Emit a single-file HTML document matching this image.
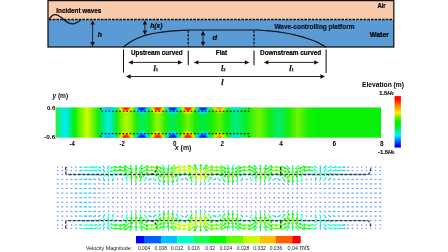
<!DOCTYPE html>
<html lang="en">
<head>
<meta charset="utf-8">
<title>Wave-controlling platform</title>
<style>
html,body{margin:0;padding:0;background:#fff;}
body{width:448px;height:252px;overflow:hidden;font-family:"Liberation Sans",sans-serif;}
svg{display:block;}
text{white-space:pre;}
</style>
</head>
<body>
<svg width="448" height="252" viewBox="0 0 448 252">
<defs>
<linearGradient id="mg" gradientUnits="userSpaceOnUse" x1="55.6" y1="0" x2="381" y2="0"><stop offset="0.0000" stop-color="rgb(50,236,50)"/><stop offset="0.0089" stop-color="rgb(20,238,120)"/><stop offset="0.0197" stop-color="rgb(0,236,212)"/><stop offset="0.0304" stop-color="rgb(0,236,230)"/><stop offset="0.0396" stop-color="rgb(0,236,190)"/><stop offset="0.0489" stop-color="rgb(0,238,90)"/><stop offset="0.0581" stop-color="rgb(0,240,0)"/><stop offset="0.0765" stop-color="rgb(110,246,0)"/><stop offset="0.0965" stop-color="rgb(208,252,0)"/><stop offset="0.1149" stop-color="rgb(110,244,0)"/><stop offset="0.1318" stop-color="rgb(14,236,24)"/><stop offset="0.1457" stop-color="rgb(0,236,130)"/><stop offset="0.1564" stop-color="rgb(0,238,205)"/><stop offset="0.1626" stop-color="rgb(0,238,224)"/><stop offset="0.1687" stop-color="rgb(0,238,205)"/><stop offset="0.1795" stop-color="rgb(0,236,100)"/><stop offset="0.1902" stop-color="rgb(30,238,10)"/><stop offset="0.2041" stop-color="rgb(135,244,0)"/><stop offset="0.2173" stop-color="rgb(180,248,0)"/><stop offset="0.2317" stop-color="rgb(135,244,0)"/><stop offset="0.2471" stop-color="rgb(30,238,10)"/><stop offset="0.2674" stop-color="rgb(0,234,105)"/><stop offset="0.2901" stop-color="rgb(30,238,10)"/><stop offset="0.3024" stop-color="rgb(100,242,0)"/><stop offset="0.3141" stop-color="rgb(150,246,0)"/><stop offset="0.3254" stop-color="rgb(100,242,0)"/><stop offset="0.3377" stop-color="rgb(30,238,10)"/><stop offset="0.3593" stop-color="rgb(0,232,96)"/><stop offset="0.3823" stop-color="rgb(20,238,10)"/><stop offset="0.4069" stop-color="rgb(120,242,0)"/><stop offset="0.4299" stop-color="rgb(20,238,10)"/><stop offset="0.4530" stop-color="rgb(0,234,70)"/><stop offset="0.4776" stop-color="rgb(20,238,10)"/><stop offset="0.5037" stop-color="rgb(90,242,0)"/><stop offset="0.5267" stop-color="rgb(10,238,20)"/><stop offset="0.5544" stop-color="rgb(0,236,140)"/><stop offset="0.5851" stop-color="rgb(10,238,30)"/><stop offset="0.6251" stop-color="rgb(120,244,0)"/><stop offset="0.6558" stop-color="rgb(20,238,10)"/><stop offset="0.6850" stop-color="rgb(0,236,110)"/><stop offset="0.7157" stop-color="rgb(20,238,10)"/><stop offset="0.7449" stop-color="rgb(115,244,0)"/><stop offset="0.7757" stop-color="rgb(20,240,6)"/><stop offset="0.8064" stop-color="rgb(8,240,8)"/><stop offset="1.0000" stop-color="rgb(8,240,8)"/></linearGradient>
<radialGradient id="bR" cx="0.5" cy="0.5" r="0.5"><stop offset="0" stop-color="rgb(255,16,0)" stop-opacity="1"/><stop offset="0.32" stop-color="rgb(255,44,0)" stop-opacity="1"/><stop offset="0.48" stop-color="rgb(255,160,0)" stop-opacity="1"/><stop offset="0.66" stop-color="rgb(235,240,0)" stop-opacity="1"/><stop offset="0.82" stop-color="rgb(150,244,0)" stop-opacity="0.7"/><stop offset="1" stop-color="rgb(60,240,0)" stop-opacity="0"/></radialGradient>
<radialGradient id="bO" cx="0.5" cy="0.5" r="0.5"><stop offset="0" stop-color="rgb(255,120,0)" stop-opacity="1"/><stop offset="0.25" stop-color="rgb(255,150,0)" stop-opacity="1"/><stop offset="0.5" stop-color="rgb(245,225,0)" stop-opacity="1"/><stop offset="0.75" stop-color="rgb(160,244,0)" stop-opacity="0.7"/><stop offset="1" stop-color="rgb(60,240,0)" stop-opacity="0"/></radialGradient>
<radialGradient id="bB" cx="0.5" cy="0.5" r="0.5"><stop offset="0" stop-color="rgb(0,16,255)" stop-opacity="1"/><stop offset="0.34" stop-color="rgb(0,50,255)" stop-opacity="1"/><stop offset="0.48" stop-color="rgb(0,160,255)" stop-opacity="1"/><stop offset="0.66" stop-color="rgb(0,232,236)" stop-opacity="1"/><stop offset="0.82" stop-color="rgb(0,236,150)" stop-opacity="0.7"/><stop offset="1" stop-color="rgb(0,238,60)" stop-opacity="0"/></radialGradient>
<radialGradient id="bC" cx="0.5" cy="0.5" r="0.5"><stop offset="0" stop-color="rgb(40,160,255)" stop-opacity="1"/><stop offset="0.3" stop-color="rgb(30,180,255)" stop-opacity="1"/><stop offset="0.55" stop-color="rgb(0,215,250)" stop-opacity="1"/><stop offset="0.8" stop-color="rgb(0,236,215)" stop-opacity="0.7"/><stop offset="1" stop-color="rgb(0,236,180)" stop-opacity="0"/></radialGradient>
<radialGradient id="bC2" cx="0.5" cy="0.5" r="0.5"><stop offset="0" stop-color="rgb(0,225,240)" stop-opacity="1"/><stop offset="0.4" stop-color="rgb(0,232,215)" stop-opacity="0.9"/><stop offset="1" stop-color="rgb(0,236,150)" stop-opacity="0"/></radialGradient>
<clipPath id="mc"><rect x="55.6" y="107.4" width="325.4" height="30.3"/></clipPath>
<linearGradient id="cb" x1="0" y1="0" x2="0" y2="1"><stop offset="0" stop-color="#f00"/><stop offset="0.07" stop-color="#ff1000"/><stop offset="0.2" stop-color="#ff8c00"/><stop offset="0.33" stop-color="#fff000"/><stop offset="0.42" stop-color="#60f000"/><stop offset="0.5" stop-color="#00ee00"/><stop offset="0.6" stop-color="#00f020"/><stop offset="0.68" stop-color="#00f0a0"/><stop offset="0.76" stop-color="#00f0ff"/><stop offset="0.86" stop-color="#0080ff"/><stop offset="0.96" stop-color="#0000ff"/><stop offset="1" stop-color="#0000f0"/></linearGradient>
</defs>
<rect x="0" y="0" width="448" height="252" fill="#fff"/>
<rect x="48" y="0.6" width="345.8" height="19.4" fill="#F8CBAD"/>
<rect x="48" y="20" width="345.8" height="27" fill="#5B9BD5"/>
<line x1="49" y1="19.4" x2="393.8" y2="19.4" stroke="#111" stroke-width="1.45" stroke-dasharray="2.7 1.0"/>
<path d="M48.8 19.6C51 16 53 14.5 55.1 14.5C58.5 14.5 60.5 17 63.7 19.4C67 22 69 23.9 72.3 23.9C76 23.9 78.5 22 81 19.4" fill="none" stroke="#111" stroke-width="1.25"/>
<path d="M123.3 47.2C124.18 46.53 126.77 44.43 128.6 43.2C130.43 41.97 132.17 40.88 134.3 39.8C136.43 38.72 139.28 37.52 141.4 36.7C143.52 35.88 144.62 35.52 147 34.9C149.38 34.28 151.87 33.62 155.7 33C159.53 32.38 165.78 31.63 170 31.2C174.22 30.77 178 30.6 181 30.4C184 30.2 186.83 30.07 188 30L254 30C255 30.03 257.67 30.07 260 30.2C262.33 30.33 264.28 30.42 268 30.8C271.72 31.18 277.53 31.73 282.3 32.5C287.07 33.27 291.83 34.2 296.6 35.4C301.37 36.6 307.33 38.5 310.9 39.7C314.47 40.9 315.45 41.35 318 42.6C320.55 43.85 324.83 46.43 326.2 47.2" fill="none" stroke="#111" stroke-width="1.2"/>
<line x1="188.25" y1="30.3" x2="188.25" y2="46.6" stroke="#111" stroke-width="1.2" stroke-dasharray="2.6 1.2"/>
<line x1="254" y1="30.3" x2="254" y2="46.6" stroke="#111" stroke-width="1.2" stroke-dasharray="2.6 1.2"/>
<rect x="48" y="0.6" width="345.8" height="46.4" fill="none" stroke="#111" stroke-width="1.25"/>
<line x1="92.6" y1="23.72" x2="92.6" y2="42.88" stroke="#111" stroke-width="0.85"/>
<polygon points="92.6,20.2 94.85,24.6 90.35,24.6" fill="#111"/>
<polygon points="92.6,46.4 90.35,42 94.85,42" fill="#111"/>
<line x1="144.9" y1="23.72" x2="144.9" y2="31.48" stroke="#111" stroke-width="0.85"/>
<polygon points="144.9,20.2 147.15,24.6 142.65,24.6" fill="#111"/>
<polygon points="144.9,35 142.65,30.6 147.15,30.6" fill="#111"/>
<line x1="203" y1="34.32" x2="203" y2="42.68" stroke="#111" stroke-width="0.85"/>
<polygon points="203,30.8 205.25,35.2 200.75,35.2" fill="#111"/>
<polygon points="203,46.2 200.75,41.8 205.25,41.8" fill="#111"/>
<text x="56.3" y="12.8" font-family='"Liberation Sans", sans-serif' font-size="6.9" font-weight="bold" font-style="normal" fill="#000" text-anchor="start" textLength="45.1" lengthAdjust="spacingAndGlyphs" stroke="#000" stroke-width="0.18">Incident waves</text>
<text x="377.4" y="8.3" font-family='"Liberation Sans", sans-serif' font-size="6.3" font-weight="bold" font-style="normal" fill="#000" text-anchor="start" textLength="8.3" lengthAdjust="spacingAndGlyphs" stroke="#000" stroke-width="0.18">Air</text>
<text x="369.8" y="36.5" font-family='"Liberation Sans", sans-serif' font-size="6.4" font-weight="bold" font-style="normal" fill="#000" text-anchor="start" textLength="19.3" lengthAdjust="spacingAndGlyphs" stroke="#000" stroke-width="0.18">Water</text>
<text x="274.5" y="29" font-family='"Liberation Sans", sans-serif' font-size="7" font-weight="bold" font-style="normal" fill="#0a1022" text-anchor="start" textLength="80" lengthAdjust="spacingAndGlyphs" stroke="#0a1022" stroke-width="0.18">Wave-controlling platform</text>
<text x="97.8" y="36.5" font-family='"Liberation Sans", sans-serif' font-size="7.2" font-weight="bold" font-style="italic" fill="#000" text-anchor="start" textLength="4.2" lengthAdjust="spacingAndGlyphs" stroke="#000" stroke-width="0.18">h</text>
<text x="150.2" y="28" font-family='"Liberation Sans", sans-serif' font-size="7.2" font-weight="bold" font-style="italic" fill="#000" text-anchor="start" textLength="12.2" lengthAdjust="spacingAndGlyphs" stroke="#000" stroke-width="0.18">h(x)</text>
<text x="212.6" y="39.8" font-family='"Liberation Sans", sans-serif' font-size="7.2" font-weight="bold" font-style="italic" fill="#000" text-anchor="start" textLength="4.6" lengthAdjust="spacingAndGlyphs" stroke="#000" stroke-width="0.18">d</text>
<line x1="123.5" y1="49.4" x2="123.5" y2="72.6" stroke="#111" stroke-width="1.05"/>
<line x1="188.25" y1="50.4" x2="188.25" y2="65.2" stroke="#111" stroke-width="1.05"/>
<line x1="254" y1="50.4" x2="254" y2="65.2" stroke="#111" stroke-width="1.05"/>
<line x1="326.1" y1="49.4" x2="326.1" y2="73" stroke="#111" stroke-width="1.05"/>
<line x1="131.88" y1="62.4" x2="178.92" y2="62.4" stroke="#111" stroke-width="0.9"/>
<polygon points="128.2,62.4 132.8,60.2 132.8,64.6" fill="#111"/>
<polygon points="182.6,62.4 178,64.6 178,60.2" fill="#111"/>
<line x1="197.48" y1="62.4" x2="245.72" y2="62.4" stroke="#111" stroke-width="0.9"/>
<polygon points="193.8,62.4 198.4,60.2 198.4,64.6" fill="#111"/>
<polygon points="249.4,62.4 244.8,64.6 244.8,60.2" fill="#111"/>
<line x1="267.48" y1="62.4" x2="315.12" y2="62.4" stroke="#111" stroke-width="0.9"/>
<polygon points="263.8,62.4 268.4,60.2 268.4,64.6" fill="#111"/>
<polygon points="318.8,62.4 314.2,64.6 314.2,60.2" fill="#111"/>
<line x1="129.68" y1="76.5" x2="321.32" y2="76.5" stroke="#111" stroke-width="0.9"/>
<polygon points="126,76.5 130.6,74.3 130.6,78.7" fill="#111"/>
<polygon points="325,76.5 320.4,78.7 320.4,74.3" fill="#111"/>
<text x="131" y="55" font-family='"Liberation Sans", sans-serif' font-size="6.7" font-weight="bold" font-style="normal" fill="#000" text-anchor="start" textLength="51.5" lengthAdjust="spacingAndGlyphs" stroke="#000" stroke-width="0.18">Upstream curved</text>
<text x="215.8" y="55.2" font-family='"Liberation Sans", sans-serif' font-size="6.7" font-weight="bold" font-style="normal" fill="#000" text-anchor="start" textLength="11.3" lengthAdjust="spacingAndGlyphs" stroke="#000" stroke-width="0.18">Flat</text>
<text x="260" y="55" font-family='"Liberation Sans", sans-serif' font-size="6.7" font-weight="bold" font-style="normal" fill="#000" text-anchor="start" textLength="61.3" lengthAdjust="spacingAndGlyphs" stroke="#000" stroke-width="0.18">Downstream curved</text>
<text x="153.5" y="70.5" font-family='"Liberation Serif", serif' font-size="8" font-weight="bold" font-style="italic" fill="#111" stroke="#111" stroke-width="0.25">l<tspan font-size="4.4" font-style="normal" dy="0">1</tspan></text>
<text x="220.9" y="70.5" font-family='"Liberation Serif", serif' font-size="8" font-weight="bold" font-style="italic" fill="#111" stroke="#111" stroke-width="0.25">l<tspan font-size="4.4" font-style="normal" dy="0">2</tspan></text>
<text x="289.2" y="70.5" font-family='"Liberation Serif", serif' font-size="8" font-weight="bold" font-style="italic" fill="#111" stroke="#111" stroke-width="0.25">l<tspan font-size="4.4" font-style="normal" dy="0">1</tspan></text>
<text x="221.3" y="84.8" font-family='"Liberation Serif", serif' font-size="8" font-weight="bold" font-style="italic" fill="#111" stroke="#111" stroke-width="0.25">l<tspan font-size="4.4" font-style="normal" dy="0"></tspan></text>
<rect x="55.6" y="107.4" width="325.4" height="30.3" fill="url(#mg)"/>
<g clip-path="url(#mc)">
<ellipse cx="108.6" cy="106.9" rx="9" ry="7.5" fill="url(#bC)"/>
<ellipse cx="108.6" cy="138.2" rx="9" ry="7.5" fill="url(#bC)"/>
<ellipse cx="126" cy="106.9" rx="8.6" ry="8.2" fill="url(#bR)"/>
<ellipse cx="126" cy="138.2" rx="8.6" ry="8.2" fill="url(#bR)"/>
<ellipse cx="142" cy="106.9" rx="9.2" ry="8.6" fill="url(#bB)"/>
<ellipse cx="142" cy="138.2" rx="9.2" ry="8.6" fill="url(#bB)"/>
<ellipse cx="157.8" cy="106.9" rx="8.8" ry="8.8" fill="url(#bR)"/>
<ellipse cx="157.8" cy="138.2" rx="8.8" ry="8.8" fill="url(#bR)"/>
<ellipse cx="172.6" cy="106.9" rx="9.2" ry="8.8" fill="url(#bB)"/>
<ellipse cx="172.6" cy="138.2" rx="9.2" ry="8.8" fill="url(#bB)"/>
<ellipse cx="188" cy="106.9" rx="8.8" ry="8.8" fill="url(#bR)"/>
<ellipse cx="188" cy="138.2" rx="8.8" ry="8.8" fill="url(#bR)"/>
<ellipse cx="203" cy="106.9" rx="9.2" ry="8.6" fill="url(#bB)"/>
<ellipse cx="203" cy="138.2" rx="9.2" ry="8.6" fill="url(#bB)"/>
<ellipse cx="219.4" cy="106.9" rx="8.5" ry="8" fill="url(#bO)"/>
<ellipse cx="219.4" cy="138.2" rx="8.5" ry="8" fill="url(#bO)"/>
<ellipse cx="236" cy="106.9" rx="8.5" ry="6.5" fill="url(#bC2)"/>
<ellipse cx="236" cy="138.2" rx="8.5" ry="6.5" fill="url(#bC2)"/>
</g>
<path d="M100.7 108L101 111.2L248.9 111.2L249.2 108" stroke="#111" stroke-width="1.1" stroke-dasharray="1.7 1.87" fill="none"/>
<path d="M100.7 137.1L101 133.6L248.9 133.6L249.2 137.1" stroke="#111" stroke-width="1.1" stroke-dasharray="1.7 1.87" fill="none"/>
<text x="52.4" y="98.4" font-family='"Liberation Sans", sans-serif' font-size="6.8" font-weight="bold" fill="#111" textLength="15.8" lengthAdjust="spacingAndGlyphs"><tspan font-style="italic">y</tspan> (m)</text>
<text x="47" y="110" font-family='"Liberation Sans", sans-serif' font-size="6" font-weight="bold" font-style="normal" fill="#000" text-anchor="start" textLength="8.2" lengthAdjust="spacingAndGlyphs">0.6</text>
<text x="44.2" y="139.4" font-family='"Liberation Sans", sans-serif' font-size="6" font-weight="bold" font-style="normal" fill="#000" text-anchor="start" textLength="11" lengthAdjust="spacingAndGlyphs">-0.6</text>
<text x="69.6" y="145.6" font-family='"Liberation Sans", sans-serif' font-size="6.3" font-weight="bold" font-style="normal" fill="#000" text-anchor="start" textLength="5.3" lengthAdjust="spacingAndGlyphs">-4</text>
<text x="119.5" y="145.6" font-family='"Liberation Sans", sans-serif' font-size="6.3" font-weight="bold" font-style="normal" fill="#000" text-anchor="start" textLength="5.3" lengthAdjust="spacingAndGlyphs">-2</text>
<text x="172.9" y="145.6" font-family='"Liberation Sans", sans-serif' font-size="6.3" font-weight="bold" font-style="normal" fill="#000" text-anchor="start" textLength="3.5" lengthAdjust="spacingAndGlyphs">0</text>
<text x="220.6" y="145.6" font-family='"Liberation Sans", sans-serif' font-size="6.3" font-weight="bold" font-style="normal" fill="#000" text-anchor="start" textLength="3.5" lengthAdjust="spacingAndGlyphs">2</text>
<text x="279.3" y="145.6" font-family='"Liberation Sans", sans-serif' font-size="6.3" font-weight="bold" font-style="normal" fill="#000" text-anchor="start" textLength="3.6" lengthAdjust="spacingAndGlyphs">4</text>
<text x="332.6" y="145.6" font-family='"Liberation Sans", sans-serif' font-size="6.3" font-weight="bold" font-style="normal" fill="#000" text-anchor="start" textLength="3.6" lengthAdjust="spacingAndGlyphs">6</text>
<text x="379.9" y="145.6" font-family='"Liberation Sans", sans-serif' font-size="6.3" font-weight="bold" font-style="normal" fill="#000" text-anchor="start" textLength="3.6" lengthAdjust="spacingAndGlyphs">8</text>
<text x="174.8" y="150.4" font-family='"Liberation Sans", sans-serif' font-size="6.8" font-weight="bold" fill="#111" textLength="16.6" lengthAdjust="spacingAndGlyphs"><tspan font-style="italic">x</tspan> (m)</text>
<rect x="394.6" y="96.1" width="6.3" height="51.5" fill="url(#cb)"/>
<text x="362" y="86.9" font-family='"Liberation Sans", sans-serif' font-size="6.6" font-weight="bold" font-style="normal" fill="#000" text-anchor="start" textLength="42" lengthAdjust="spacingAndGlyphs">Elevation (m)</text>
<text x="379.3" y="95.4" font-family='"Liberation Sans", sans-serif' font-size="5.4" font-weight="bold" fill="#111" stroke="#111" stroke-width="0.15" textLength="14.2" lengthAdjust="spacingAndGlyphs">1.5<tspan font-style="italic">H</tspan><tspan font-size="3.4">0</tspan></text>
<text x="378.0" y="153.6" font-family='"Liberation Sans", sans-serif' font-size="5.4" font-weight="bold" fill="#111" stroke="#111" stroke-width="0.15" textLength="16.2" lengthAdjust="spacingAndGlyphs">-1.5<tspan font-style="italic">H</tspan><tspan font-size="3.4">0</tspan></text>
<g fill="none" stroke-linecap="butt">
<path d="M58.31 167.35L57.09 167.05M62.8 167.58L61.81 166.82M66.97 167.82L66.86 166.58M71.03 167.58L72.02 166.82M356.67 166.81L357.66 167.59M361.75 166.58L361.79 167.82M366.86 166.8L365.9 167.6M371.59 167.05L370.38 167.35M376.22 167.24L374.97 167.16M380.78 167.43L379.62 166.97M58.3 170.69L57.1 170.31M62.76 170.94L61.86 170.06M66.96 171.12L66.87 169.88M71.07 170.93L71.97 170.07M356.72 170.06L357.61 170.94M361.75 169.88L361.79 171.12M366.81 170.05L365.94 170.95M371.58 170.32L370.39 170.68M376.22 170.55L374.97 170.45M380.76 170.78L379.64 170.22M56.98 174.65L58.42 174.35M61.54 174.8L63.08 174.2M112.69 183.23L113.28 184.57M117.56 183.28L117.63 184.52M122.32 184.51L122.08 183.29M182.67 183.63L181.52 184.17M187.23 184.49L186.17 183.31M242.27 183.26L241.71 184.54M247.19 184.07L245.99 183.73M251.41 184.68L250.99 183.12M306.02 183.48L306.95 184.32M310.59 184.28L311.59 183.52M112.38 188.28L113.59 188.72M116.97 188.42L118.21 188.58M121.65 188.79L122.75 188.21M126.4 188.97L127.22 188.03M131.02 188.99L131.81 188.01M135.52 188.99L136.52 188.01M140 188.92L141.26 188.08M144.5 188.77L145.98 188.23M149.05 188.57L150.64 188.43M153.67 188.35L155.23 188.65M158.36 188.15L159.76 188.85M163.1 188.01L164.22 188.99M167.88 187.95L168.66 189.05M172.64 187.92L173.12 189.08M177.4 187.88L177.57 189.12M182.38 187.94L181.81 189.06M186.82 189.11L186.58 187.89M191.22 189.12L191.4 187.88M195.66 189.11L196.16 187.89M200.07 189.12L200.97 187.88M204.49 189.01L205.77 187.99M213.52 188.56L215.17 188.44M218.16 188.32L219.74 188.68M222.87 188.13L224.25 188.87M227.62 188.02L228.71 188.98M232.39 187.99L233.15 189.01M237.09 187.95L237.67 189.05M241.72 187.94L242.25 189.06M246.02 188.76L247.16 188.24M250.92 189.06L251.48 187.94M255.48 189.03L256.14 187.97M259.96 189L260.86 188M264.4 188.94L265.64 188.06M268.87 188.8L270.39 188.2M296.63 188.09L297.92 188.91M301.24 188.22L302.52 188.78M305.81 188.41L307.16 188.59M310.34 188.6L311.85 188.4M112.27 193.04L113.7 193.16M116.97 193.08L118.22 193.12M121.58 193.16L122.82 193.04M126.2 193.24L127.42 192.96M130.82 193.28L132.01 192.92M135.42 193.27L136.62 192.93M140.02 193.24L141.24 192.96M144.6 193.18L145.87 193.02M149.18 193.12L150.5 193.08M153.8 193.05L155.1 193.15M158.44 192.99L159.67 193.21M163.06 192.93L164.27 193.27M167.69 192.87L168.85 193.33M172.31 192.84L173.45 193.36M176.91 192.86L178.06 193.34M181.47 193.02L182.71 193.18M186.1 193.28L187.3 192.92M190.76 193.4L191.86 192.8M195.36 193.39L196.47 192.81M199.94 193.34L201.1 192.86M204.53 193.26L205.73 192.94M209.09 193.19L210.39 193.01M213.67 193.12L215.02 193.08M218.29 193.05L219.61 193.15M222.94 192.98L224.17 193.22M227.56 192.93L228.77 193.27M232.18 192.89L233.36 193.31M236.79 192.89L237.97 193.31M241.38 192.96L242.6 193.24M245.97 193.12L247.22 193.08M250.6 193.26L251.8 192.94M255.22 193.3L256.4 192.9M259.82 193.29L261.01 192.91M264.41 193.24L265.63 192.96M268.96 193.19L270.29 193.01M273.51 193.13L274.96 193.07M278.09 193.07L279.59 193.13M282.69 193.01L284.21 193.19M287.31 192.97L288.8 193.23M291.93 192.96L293.4 193.24M296.54 192.98L298 193.22M301.12 193.02L302.63 193.18M305.69 193.08L307.28 193.12M112.24 197.7L113.73 197.7M116.97 197.7L118.22 197.7M121.58 197.7L122.82 197.7M126.18 197.7L127.43 197.7M130.79 197.7L132.04 197.7M135.4 197.7L136.65 197.7M140 197.7L141.25 197.7M144.61 197.7L145.86 197.7M149.22 197.7L150.47 197.7M153.83 197.7L155.07 197.7M158.43 197.7L159.68 197.7M163.04 197.7L164.29 197.7M167.65 197.7L168.9 197.7M172.25 197.7L173.5 197.7M176.86 197.7L178.11 197.7M181.47 197.7L182.72 197.7M186.08 197.7L187.32 197.7M190.68 197.7L191.93 197.7M195.29 197.71L196.54 197.69M199.9 197.7L201.15 197.7M204.5 197.7L205.75 197.7M209.11 197.7L210.36 197.7M213.71 197.7L214.97 197.7M218.33 197.7L219.57 197.7M222.93 197.7L224.18 197.7M227.54 197.7L228.79 197.7M232.15 197.7L233.4 197.7M236.75 197.7L238 197.7M241.36 197.7L242.61 197.7M245.97 197.7L247.22 197.7M250.58 197.7L251.82 197.7M255.18 197.7L256.43 197.7M259.79 197.7L261.04 197.7M264.4 197.7L265.65 197.7M268.99 197.7L270.27 197.7M273.55 197.7L274.92 197.7M278.13 197.7L279.56 197.7M282.72 197.7L284.18 197.7M287.33 197.7L288.79 197.7M291.93 197.7L293.4 197.7M296.52 197.7L298.02 197.7M301.09 197.7L302.66 197.7M112.27 202.36L113.7 202.24M116.97 202.32L118.22 202.28M121.58 202.24L122.82 202.36M126.2 202.17L127.42 202.43M130.81 202.13L132.02 202.47M135.42 202.14L136.62 202.46M140.02 202.17L141.24 202.43M144.6 202.22L145.87 202.38M149.19 202.28L150.5 202.32M153.8 202.34L155.1 202.26M158.44 202.4L159.67 202.2M163.06 202.46L164.27 202.14M167.68 202.51L168.86 202.09M172.3 202.55L173.45 202.05M176.9 202.52L178.07 202.08M181.47 202.38L182.71 202.22M186.1 202.13L187.3 202.47M190.75 202.02L191.87 202.58M195.35 202.03L196.48 202.57M199.94 202.08L201.11 202.52M204.52 202.14L205.73 202.46M209.09 202.21L210.38 202.39M213.67 202.28L215.01 202.32M218.3 202.35L219.6 202.25M222.94 202.41L224.17 202.19M227.56 202.46L228.77 202.14M232.18 202.5L233.36 202.1M236.79 202.5L237.97 202.1M241.37 202.43L242.6 202.17M245.97 202.28L247.22 202.32M250.59 202.15L251.81 202.45M255.21 202.11L256.4 202.49M259.81 202.12L261.01 202.48M264.41 202.17L265.63 202.43M268.96 202.21L270.29 202.39M273.52 202.27L274.95 202.33M278.09 202.33L279.59 202.27M282.7 202.38L284.2 202.22M287.31 202.42L288.8 202.18M291.93 202.43L293.4 202.17M296.54 202.41L298.01 202.19M301.12 202.37L302.63 202.23M305.68 202.32L307.29 202.28M112.37 207.11L113.6 206.69M116.97 206.97L118.21 206.83M121.64 206.63L122.76 207.17M126.38 206.44L127.23 207.36M131.01 206.43L131.82 207.37M135.52 206.43L136.52 207.37M140 206.5L141.26 207.3M144.5 206.64L145.97 207.16M149.06 206.84L150.63 206.96M153.68 207.05L155.22 206.75M158.36 207.23L159.75 206.57M163.1 207.37L164.22 206.43M167.88 207.43L168.66 206.37M172.62 207.47L173.13 206.33M177.37 207.51L177.6 206.29M182.31 207.49L181.88 206.31M186.78 206.28L186.62 207.52M191.19 206.29L191.42 207.51M195.66 206.32L196.17 207.48M200.07 206.31L200.97 207.49M204.49 206.42L205.77 207.38M208.97 206.61L210.5 207.19M213.53 206.84L215.16 206.96M218.17 207.07L219.73 206.73M222.87 207.25L224.24 206.55M227.62 207.36L228.71 206.44M232.38 207.39L233.16 206.41M237.07 207.44L237.69 206.36M241.68 207.45L242.29 206.35M246.01 206.68L247.18 207.12M250.89 206.36L251.51 207.44M255.46 206.38L256.15 207.42M259.96 206.43L260.87 207.37M264.4 206.48L265.64 207.32M268.87 206.61L270.38 207.19M291.96 207.34L293.36 206.46M296.62 207.29L297.92 206.51M301.23 207.16L302.52 206.64M305.8 206.98L307.17 206.82M310.33 206.8L311.86 207M112.67 212.14L113.3 210.86M117.46 212.11L117.73 210.89M122.29 210.88L122.11 212.12M182.66 211.77L181.53 211.23M187.21 210.93L186.19 212.07M242.25 212.12L241.73 210.88M247.19 211.32L245.99 211.68M251.4 210.75L251 212.25M306 211.89L306.97 211.11M310.58 211.15L311.61 211.85M56.97 220.45L58.43 220.75M58.3 224.81L57.1 225.19M62.75 224.56L61.86 225.44M66.96 224.38L66.87 225.62M71.07 224.56L71.97 225.44M356.72 225.44L357.61 224.56M361.75 225.62L361.79 224.38M366.81 225.45L365.94 224.55M371.58 225.18L370.39 224.82M376.22 224.95L374.97 225.05M380.76 224.72L379.64 225.28M58.31 228.25L57.09 228.55M62.8 228.02L61.81 228.78M66.97 227.78L66.86 229.02M71.03 228.02L72.02 228.78M356.67 228.79L357.66 228.01M361.75 229.02L361.79 227.78M366.86 228.8L365.9 228M371.59 228.55L370.38 228.25M376.22 228.36L374.97 228.44M380.78 228.17L379.62 228.63" stroke="#0000ff" stroke-width="1.35" stroke-opacity="0.48"/>
<path d="M75.23 167.43L77.03 166.97M346.65 167.02L349.25 167.38M351.7 166.93L353.41 167.47M75.23 170.78L77.03 170.22M346.65 170.27L349.25 170.73M351.71 170.16L353.41 170.84M66.05 174.88L67.78 174.12M70.52 174.89L72.53 174.11M346.58 174.23L349.32 174.77M351.29 174.13L353.82 174.87M356 174.1L358.33 174.9M360.7 174.13L362.85 174.87M365.38 174.22L367.38 174.78M370.02 174.37L371.95 174.63M374.64 174.54L376.55 174.46M379.22 174.7L381.18 174.3M56.86 179.44L58.54 179.16M61.45 179.57L63.16 179.03M66.01 179.65L67.82 178.95M70.53 179.66L72.51 178.94M74.74 179.58L77.52 179.02M118.36 178.83L116.83 179.77M247.68 179.57L245.51 179.03M306.95 178.5L306.02 180.1M311.38 180.24L310.81 178.36M337.41 179.48L340.06 179.12M342.05 179.21L344.64 179.39M346.7 179.04L349.2 179.56M351.35 178.95L353.76 179.65M356.01 178.93L358.32 179.67M360.65 178.96L362.89 179.64M365.29 179.05L367.47 179.55M369.91 179.18L372.06 179.42M374.52 179.34L376.67 179.26M379.12 179.48L381.28 179.12M56.81 183.94L58.59 183.86M61.4 183.99L63.21 183.81M65.98 184.01L67.85 183.79M70.53 184.02L72.51 183.78M74.76 183.99L77.49 183.81M93.17 183.72L95.94 184.08M97.97 183.52L100.36 184.28M102.82 183.25L104.72 184.55M107.75 183.1L109.01 184.7M126.81 184.87L126.8 182.93M131.23 185.13L131.6 182.67M135.59 185.19L136.45 182.61M139.92 185.04L141.33 182.76M144.29 184.66L146.18 183.14M148.76 184.1L150.93 183.7M153.4 183.46L155.5 184.34M158.19 182.93L159.92 184.87M172.92 182.6L172.83 185.2M177.83 182.96L177.15 184.84M191.59 185.1L191.02 182.7M208.72 184.76L210.75 183.04M213.19 184.08L215.49 183.72M217.88 183.4L220.02 184.4M222.71 182.89L224.4 184.91M227.61 182.62L228.71 185.18M232.53 182.59L233.01 185.21M237.42 182.81L237.33 184.99M255.76 185.06L255.85 182.74M260.07 185.2L260.76 182.6M264.36 185.09L265.68 182.71M268.69 184.75L270.57 183.05M273.11 184.21L275.36 183.59M277.69 183.58L279.99 184.22M282.43 183.06L284.47 184.74M287.25 182.73L288.86 185.07M292.08 182.63L293.25 185.17M296.87 182.75L297.67 185.05M301.58 183.07L302.18 184.73M315.06 184.59L316.34 183.21M319.44 184.67L321.17 183.13M323.85 184.54L325.97 183.26M328.34 184.31L330.7 183.49M332.9 184.1L335.35 183.7M337.51 183.96L339.97 183.84M342.12 183.87L344.56 183.93M346.75 183.82L349.15 183.98M351.37 183.79L353.74 184.01M356 183.78L358.33 184.02M360.62 183.79L362.92 184.01M365.25 183.82L367.51 183.98M369.86 183.86L372.11 183.94M374.47 183.91L376.72 183.89M379.07 183.96L381.33 183.84M56.79 188.51L58.61 188.49M61.39 188.53L63.23 188.47M65.97 188.54L67.86 188.46M70.53 188.54L72.51 188.46M74.78 188.53L77.48 188.47M93.2 188.44L95.91 188.56M97.98 188.38L100.35 188.62M102.76 188.29L104.78 188.71M107.57 188.23L109.19 188.77M208.96 188.81L210.51 188.19M273.39 188.61L275.09 188.39M277.97 188.39L279.72 188.61M282.6 188.2L284.3 188.8M287.28 188.08L288.83 188.92M291.97 188.04L293.36 188.96M314.83 188.72L316.57 188.28M319.31 188.75L321.3 188.25M323.82 188.71L326.01 188.29M328.37 188.63L330.68 188.37M332.95 188.56L335.31 188.44M337.55 188.52L339.92 188.48M342.16 188.49L344.53 188.51M346.77 188.47L349.13 188.53M351.38 188.46L353.73 188.54M356 188.46L358.33 188.54M360.61 188.47L362.93 188.53M365.23 188.48L367.53 188.52M369.84 188.49L372.13 188.51M374.45 188.5L376.74 188.5M379.05 188.52L381.35 188.48M56.78 193.1L58.62 193.1M61.38 193.11L63.23 193.09M65.97 193.11L67.86 193.09M70.53 193.11L72.51 193.09M74.78 193.11L77.48 193.09M93.21 193.08L95.9 193.12M97.99 193.06L100.34 193.14M102.75 193.04L104.79 193.16M107.51 193.02L109.25 193.18M310.23 193.13L311.96 193.07M314.75 193.16L316.65 193.04M319.28 193.17L321.34 193.03M323.82 193.16L326.01 193.04M328.38 193.14L330.66 193.06M332.97 193.12L335.29 193.08M337.57 193.11L339.9 193.09M342.17 193.1L344.51 193.1M346.78 193.09L349.12 193.11M351.39 193.09L353.72 193.11M356 193.09L358.33 193.11M360.61 193.09L362.93 193.11M365.22 193.09L367.54 193.11M369.83 193.1L372.14 193.1M374.44 193.1L376.75 193.1M379.04 193.11L381.36 193.09M56.78 197.7L58.62 197.7M61.38 197.7L63.24 197.7M65.97 197.7L67.86 197.7M70.53 197.7L72.51 197.7M74.78 197.7L77.47 197.7M93.22 197.7L95.9 197.7M97.99 197.7L100.34 197.7M102.75 197.7L104.8 197.7M107.49 197.7L109.26 197.7M305.65 197.7L307.32 197.7M310.2 197.7L311.99 197.7M314.73 197.7L316.67 197.7M319.27 197.7L321.35 197.7M323.82 197.7L326.01 197.7M328.39 197.7L330.66 197.7M332.98 197.7L335.28 197.7M337.57 197.7L339.9 197.7M342.18 197.7L344.51 197.7M346.78 197.7L349.12 197.7M351.39 197.7L353.72 197.7M356 197.7L358.33 197.7M360.61 197.7L362.93 197.7M365.22 197.7L367.54 197.7M369.83 197.7L372.14 197.7M374.43 197.7L376.75 197.7M379.04 197.7L381.36 197.7M56.78 202.3L58.62 202.3M61.38 202.29L63.23 202.31M65.97 202.29L67.86 202.31M70.53 202.29L72.51 202.31M74.78 202.29L77.48 202.31M93.21 202.32L95.9 202.28M97.99 202.33L100.34 202.27M102.75 202.36L104.79 202.24M107.51 202.37L109.25 202.23M310.22 202.27L311.96 202.33M314.75 202.24L316.65 202.36M319.27 202.23L321.34 202.37M323.82 202.24L326.01 202.36M328.38 202.26L330.66 202.34M332.97 202.28L335.29 202.32M337.57 202.29L339.9 202.31M342.17 202.3L344.51 202.3M346.78 202.31L349.12 202.29M351.39 202.31L353.72 202.29M356 202.31L358.33 202.29M360.61 202.31L362.93 202.29M365.22 202.31L367.54 202.29M369.83 202.3L372.14 202.3M374.44 202.3L376.75 202.3M379.04 202.3L381.36 202.3M56.79 206.89L58.61 206.91M61.39 206.87L63.23 206.93M65.97 206.87L67.86 206.93M70.53 206.87L72.51 206.93M74.78 206.87L77.48 206.93M93.2 206.95L95.91 206.85M97.98 207.02L100.35 206.78M102.76 207.1L104.78 206.7M107.56 207.15L109.19 206.65M273.39 206.8L275.08 207M277.97 207L279.71 206.8M282.61 207.18L284.29 206.62M287.28 207.3L288.83 206.5M314.83 206.69L316.57 207.11M319.31 206.66L321.3 207.14M323.82 206.7L326.01 207.1M328.37 206.77L330.67 207.03M332.95 206.84L335.31 206.96M337.55 206.88L339.92 206.92M342.16 206.91L344.53 206.89M346.77 206.92L349.13 206.88M351.39 206.93L353.73 206.87M356 206.94L358.33 206.86M360.61 206.93L362.93 206.87M365.23 206.92L367.53 206.88M369.84 206.91L372.13 206.89M374.45 206.9L376.74 206.9M379.05 206.88L381.35 206.92M56.81 211.46L58.59 211.54M61.4 211.42L63.21 211.58M65.98 211.39L67.85 211.61M70.53 211.39L72.51 211.61M74.76 211.41L77.49 211.59M93.17 211.67L95.94 211.33M97.97 211.86L100.36 211.14M102.82 212.12L104.72 210.88M107.74 212.27L109.02 210.73M126.8 210.57L126.82 212.43M131.22 210.32L131.61 212.68M135.59 210.26L136.45 212.74M139.93 210.41L141.33 212.59M144.3 210.77L146.17 212.23M148.77 211.31L150.91 211.69M153.41 211.92L155.49 211.08M158.2 212.43L159.91 210.57M163.08 212.75L164.25 210.25M168 212.87L168.55 210.13M172.91 212.75L172.85 210.25M177.81 212.4L177.17 210.6M191.57 210.35L191.04 212.65M208.73 210.68L210.74 212.32M213.21 211.33L215.47 211.67M217.89 211.98L220.01 211.02M222.72 212.47L224.39 210.53M227.61 212.73L228.71 210.27M232.52 212.76L233.02 210.24M237.41 212.55L237.35 210.45M255.75 210.38L255.86 212.62M260.06 210.25L260.77 212.75M264.37 210.36L265.68 212.64M268.7 210.69L270.56 212.31M273.13 211.21L275.34 211.79M277.71 211.8L279.97 211.2M282.44 212.31L284.46 210.69M287.25 212.62L288.86 210.38M292.08 212.72L293.25 210.28M296.86 212.6L297.69 210.4M301.56 212.29L302.2 210.71M315.05 210.84L316.35 212.16M319.44 210.77L321.18 212.23M323.85 210.89L325.98 212.11M328.34 211.11L330.7 211.89M332.91 211.31L335.35 211.69M337.51 211.44L339.96 211.56M342.13 211.53L344.56 211.47M346.75 211.58L349.15 211.42M351.37 211.61L353.74 211.39M356 211.61L358.33 211.39M360.62 211.6L362.92 211.4M365.24 211.58L367.51 211.42M369.86 211.54L372.11 211.46M374.47 211.49L376.72 211.51M379.07 211.45L381.33 211.55M56.86 215.97L58.54 216.23M61.45 215.84L63.17 216.36M66.01 215.76L67.82 216.44M70.53 215.76L72.51 216.44M74.74 215.83L77.51 216.37M118.32 216.55L116.87 215.65M122.91 214.9L121.49 217.3M247.64 215.84L245.55 216.36M306.91 216.87L306.06 215.33M311.34 215.19L310.85 217.01M337.42 215.93L340.05 216.27M342.05 216.19L344.63 216.01M346.7 216.35L349.2 215.85M351.36 216.43L353.76 215.77M356.01 216.46L358.32 215.74M360.65 216.43L362.89 215.77M365.28 216.34L367.47 215.86M369.91 216.21L372.06 215.99M374.52 216.06L376.67 216.14M379.11 215.92L381.29 216.28M61.53 220.3L63.09 220.9M66.04 220.22L67.78 220.98M70.52 220.21L72.52 220.99M346.6 220.87L349.3 220.33M351.3 220.97L353.81 220.23M356 221L358.33 220.2M360.69 220.97L362.85 220.23M365.36 220.88L367.39 220.32M370.01 220.73L371.96 220.47M374.62 220.56L376.56 220.64M379.2 220.4L381.2 220.8M75.23 224.72L77.03 225.28M346.65 225.23L349.25 224.77M351.71 225.34L353.41 224.66M75.23 228.17L77.03 228.63M346.65 228.58L349.25 228.22M351.7 228.67L353.41 228.13" stroke="#0060ff" stroke-width="1.15" stroke-opacity="0.58"/>
<path d="M79.29 167.33L82.18 167.07M103.08 165.85L104.46 168.55M109.45 165.68L107.31 168.72M107.31 168.72L108.41 168.11M107.31 168.72L107.51 167.47M320.41 168.78L320.21 165.62M323.58 168.48L326.25 165.92M326.25 165.92L325.05 166.31M326.25 165.92L325.81 167.1M341.61 167.14L345.08 167.26M345.08 167.26L344.03 166.71M345.08 167.26L344 167.74M79.29 170.66L82.18 170.34M103.11 168.88L104.44 172.12M104.44 172.12L104.51 170.93M104.44 172.12L103.55 171.33M320.4 172.38L320.21 168.62M320.21 168.62L319.71 169.8M320.21 168.62L320.83 169.74M341.61 170.42L345.08 170.58M345.08 170.58L344.04 170.02M345.08 170.58L343.99 171.04M74.68 174.8L77.58 174.2M79.09 174.68L82.39 174.32M82.39 174.32L81.32 173.94M82.39 174.32L81.43 174.92M83.58 174.53L87.11 174.47M87.11 174.47L86.02 173.97M87.11 174.47L86.04 175.01M88.2 174.31L91.7 174.69M91.7 174.69L90.68 174.06M91.7 174.69L90.57 175.09M92.96 173.93L96.15 175.07M96.15 175.07L95.34 174.25M96.15 175.07L95.01 175.19M97.89 173.31L100.44 175.69M100.44 175.69L100.01 174.58M100.44 175.69L99.31 175.34M308.27 173.8L304.7 175.2M304.7 175.2L306 175.3M304.7 175.2L305.59 174.25M312.65 175.36L309.54 173.64M309.54 173.64L310.24 174.63M309.54 173.64L310.74 173.71M328.15 175.75L330.9 173.25M330.9 173.25L329.68 173.61M330.9 173.25L330.43 174.42M332.58 175.14L335.67 173.86M335.67 173.86L334.54 173.8M335.67 173.86L334.92 174.71M337.2 174.69L340.27 174.31M341.88 174.4L344.81 174.6M79.18 179.47L82.29 179.13M83.7 179.32L86.99 179.28M86.99 179.28L85.97 178.8M86.99 179.28L85.99 179.78M88.35 179.12L91.55 179.48M91.55 179.48L90.63 178.9M91.55 179.48L90.52 179.84M93.12 178.76L96 179.84M98 178.18L100.33 180.42M100.33 180.42L99.95 179.39M100.33 180.42L99.28 180.08M103.01 177.52L104.54 181.08M104.54 181.08L104.59 179.76M104.54 181.08L103.54 180.21M113.26 177.62L112.71 180.98M112.71 180.98L113.37 180.03M112.71 180.98L112.38 179.87M122.95 180.54L121.45 178.06M148.19 179.84L151.49 178.76M151.49 178.76L150.32 178.6M151.49 178.76L150.64 179.58M183.45 178.62L180.73 179.98M187.95 180.76L185.45 177.84M185.45 177.84L185.78 179.1M185.45 177.84L186.65 178.36M212.57 179.8L216.12 178.8M216.12 178.8L214.88 178.58M216.12 178.8L215.18 179.63M242.83 177.74L241.14 180.86M241.14 180.86L242.12 180.15M241.14 180.86L241.2 179.65M272.59 180.15L275.88 178.45M275.88 178.45L274.62 178.48M275.88 178.45L275.13 179.46M277.18 178.42L280.51 180.18M280.51 180.18L279.75 179.15M280.51 180.18L279.23 180.13M315.57 181.12L315.83 177.48M315.83 177.48L315.21 178.56M315.83 177.48L316.29 178.63M328.34 180.5L330.71 178.1M330.71 178.1L329.63 178.49M330.71 178.1L330.33 179.19M332.82 179.92L335.44 178.68M79.23 183.96L82.25 183.84M83.75 183.91L86.93 183.89M88.41 183.84L91.49 183.96M163.08 182.59L164.25 185.21M168 182.48L168.54 185.32M195.88 185.43L195.95 182.37M200.14 185.49L200.91 182.31M200.91 182.31L200.2 183.17M200.91 182.31L201.14 183.4M204.39 185.25L205.87 182.55M79.24 188.52L82.23 188.48M83.78 188.5L86.91 188.5M88.44 188.48L91.46 188.52M79.25 193.11L82.22 193.09M83.79 193.1L86.9 193.1M88.45 193.09L91.45 193.11M79.26 197.7L82.22 197.7M83.79 197.7L86.89 197.7M88.46 197.7L91.44 197.7M79.25 202.3L82.22 202.3M83.79 202.3L86.9 202.3M88.45 202.31L91.45 202.29M79.25 206.88L82.23 206.92M83.78 206.9L86.91 206.9M88.44 206.92L91.46 206.88M79.23 211.45L82.25 211.55M83.75 211.49L86.93 211.51M88.41 211.56L91.49 211.44M195.87 210.03L195.96 212.97M200.13 209.98L200.91 213.02M204.4 210.2L205.86 212.8M79.19 215.94L82.29 216.26M83.7 216.08L86.98 216.12M86.98 216.12L85.99 215.62M86.98 216.12L85.97 216.59M88.35 216.28L91.55 215.92M91.55 215.92L90.52 215.56M91.55 215.92L90.62 216.5M93.12 216.61L95.99 215.59M97.99 217.18L100.34 215.02M103 217.8L104.55 214.4M104.55 214.4L103.57 215.21M104.55 214.4L104.58 215.67M113.23 217.71L112.74 214.49M112.74 214.49L112.41 215.55M112.74 214.49L113.37 215.4M148.22 215.58L151.46 216.62M151.46 216.62L150.62 215.82M151.46 216.62L150.32 216.78M152.92 217.24L155.98 214.96M155.98 214.96L154.7 215.2M155.98 214.96L155.38 216.11M183.41 216.75L180.78 215.45M187.92 214.7L185.48 217.5M185.48 217.5L186.64 217M185.48 217.5L185.81 216.29M212.6 215.62L216.08 216.58M216.08 216.58L215.16 215.77M216.08 216.58L214.88 216.8M242.8 217.6L241.17 214.6M241.17 214.6L241.23 215.76M241.17 214.6L242.11 215.28M272.62 215.28L275.85 216.92M275.85 216.92L275.1 215.94M275.85 216.92L274.62 216.9M277.21 216.94L280.48 215.26M280.48 215.26L279.23 215.29M280.48 215.26L279.73 216.26M315.55 214.35L315.85 217.85M315.85 217.85L316.28 216.73M315.85 217.85L315.24 216.82M323.98 214.41L325.85 217.79M325.85 217.79L325.78 216.48M325.85 217.79L324.78 217.03M328.34 214.95L330.71 217.25M330.71 217.25L330.32 216.19M330.71 217.25L329.64 216.89M332.83 215.51L335.43 216.69M74.69 220.3L77.57 220.9M79.1 220.42L82.37 220.78M82.37 220.78L81.42 220.19M82.37 220.78L81.32 221.15M83.59 220.57L87.09 220.63M87.09 220.63L86.03 220.09M87.09 220.63L86.01 221.13M88.23 220.79L91.67 220.41M91.67 220.41L90.56 220.01M91.67 220.41L90.68 221.03M92.99 221.17L96.13 220.03M96.13 220.03L95 219.91M96.13 220.03L95.33 220.84M97.91 221.79L100.42 219.41M100.42 219.41L99.3 219.77M100.42 219.41L100 220.51M119.44 221.01L115.74 220.19M115.74 220.19L116.76 220.99M115.74 220.19L117 219.9M308.1 221.32L304.87 219.88M304.87 219.88L305.65 220.8M304.87 219.88L306.07 219.84M312.49 219.72L309.7 221.48M309.7 221.48L310.81 221.35M309.7 221.48L310.29 220.53M328.18 219.34L330.87 221.86M330.87 221.86L330.42 220.69M330.87 221.86L329.67 221.49M332.62 219.96L335.64 221.24M335.64 221.24L334.9 220.4M335.64 221.24L334.52 221.3M337.23 220.41L340.24 220.79M341.9 220.7L344.78 220.5M79.29 224.84L82.18 225.16M103.11 226.63L104.43 223.37M104.43 223.37L103.55 224.17M104.43 223.37L104.51 224.56M320.4 223.11L320.21 226.89M320.21 226.89L320.83 225.76M320.21 226.89L319.71 225.71M341.61 225.08L345.08 224.92M345.08 224.92L343.99 224.46M345.08 224.92L344.04 225.48M79.29 228.27L82.18 228.53M103.08 229.75L104.46 227.05M109.45 229.92L107.31 226.88M107.31 226.88L107.51 228.13M107.31 226.88L108.41 227.49M320.41 226.82L320.21 229.98M323.58 227.12L326.25 229.68M326.25 229.68L325.81 228.5M326.25 229.68L325.05 229.29M341.61 228.46L345.08 228.34M345.08 228.34L344 227.86M345.08 228.34L344.03 228.89" stroke="#00c0ff" stroke-width="1.15" stroke-opacity="0.85"/>
<path d="M83.39 167.22L87.3 167.18M87.3 167.18L86.1 166.62M87.3 167.18L86.11 167.77M87.68 167.08L92.22 167.32M92.22 167.32L90.87 166.57M92.22 167.32L90.8 167.92M92.29 166.86L96.83 167.54M96.83 167.54L95.54 166.66M96.83 167.54L95.34 168M97.34 166.44L100.99 167.96M100.99 167.96L100.1 166.95M100.99 167.96L99.65 168.03M317.37 168.45L314.03 165.95M314.03 165.95L314.68 167.21M314.03 165.95L315.42 166.22M327.46 167.99L331.59 166.41M331.59 166.41L330.09 166.28M331.59 166.41L330.56 167.5M331.88 167.59L336.37 166.81M336.37 166.81L334.89 166.39M336.37 166.81L335.11 167.71M336.65 167.31L340.82 167.09M340.82 167.09L339.51 166.54M340.82 167.09L339.58 167.77M83.39 170.52L87.3 170.48M87.3 170.48L86.09 169.91M87.3 170.48L86.11 171.07M87.68 170.35L92.22 170.65M92.22 170.65L90.88 169.89M92.22 170.65L90.79 171.23M92.29 170.07L96.83 170.93M96.83 170.93L95.56 169.99M96.83 170.93L95.31 171.34M97.35 169.56L100.98 171.44M100.98 171.44L100.14 170.33M100.98 171.44L99.59 171.4M109.41 168.66L107.35 172.34M107.35 172.34L108.52 171.52M107.35 172.34L107.43 170.91M317.34 172.03L314.06 168.97M314.06 168.97L314.61 170.39M314.06 168.97L315.52 169.42M323.61 172.06L326.22 168.94M326.22 168.94L324.96 169.51M326.22 168.94L325.88 170.28M327.47 171.48L331.57 169.52M331.57 169.52L330.03 169.51M331.57 169.52L330.61 170.73M331.89 170.98L336.37 170.02M336.37 170.02L334.86 169.65M336.37 170.02L335.14 170.98M336.65 170.64L340.82 170.36M340.82 170.36L339.5 169.83M340.82 170.36L339.59 171.06M103.14 172.6L104.41 176.4M104.41 176.4L104.58 175.05M104.41 176.4L103.46 175.42M108.7 172.3L108.05 176.7M108.05 176.7L108.9 175.45M108.05 176.7L107.6 175.26M114.33 172.81L111.64 176.19M111.64 176.19L112.96 175.55M111.64 176.19L111.97 174.76M119.6 174.1L115.58 174.9M115.58 174.9L116.93 175.25M115.58 174.9L116.7 174.06M124.2 175.67L120.2 173.33M120.2 173.33L121.08 174.64M120.2 173.33L121.77 173.45M248.93 174.74L244.25 174.26M244.25 174.26L245.62 175.1M244.25 174.26L245.76 173.72M316.47 176.4L314.93 172.6M314.93 172.6L314.84 173.99M314.93 172.6L315.96 173.54M320.17 176.69L320.45 172.31M320.45 172.31L319.71 173.61M320.45 172.31L321.01 173.69M324.01 176.38L325.82 172.62M325.82 172.62L324.71 173.5M325.82 172.62L325.82 174.04M108.12 177.23L108.64 181.37M108.64 181.37L109.09 180.03M108.64 181.37L107.86 180.18M127.27 181.67L126.35 176.93M126.35 176.93L125.93 178.52M126.35 176.93L127.33 178.25M143.93 181.29L146.54 177.31M146.54 177.31L145.15 178.14M146.54 177.31L146.33 178.92M152.89 178.11L156.01 180.49M156.01 180.49L155.41 179.3M156.01 180.49L154.7 180.22M217.36 177.94L220.54 180.66M220.54 180.66L219.97 179.36M220.54 180.66L219.16 180.3M251.93 181.2L250.47 177.4M250.47 177.4L250.35 178.78M250.47 177.4L251.48 178.35M302.15 177.25L301.6 181.35M301.6 181.35L302.38 180.18M301.6 181.35L301.16 180.02M319.76 181.35L320.86 177.25M320.86 177.25L319.91 178.34M320.86 177.25L321.13 178.67M323.99 181.06L325.84 177.54M325.84 177.54L324.75 178.34M325.84 177.54L325.79 178.89M108.1 218.09L108.65 214.11M108.65 214.11L107.9 215.25M108.65 214.11L109.07 215.41M127.24 213.82L126.37 218.38M126.37 218.38L127.31 217.11M126.37 218.38L125.96 216.85M143.95 214.19L146.52 218.01M146.52 218.01L146.3 216.46M146.52 218.01L145.17 217.22M178.37 218.31L176.61 213.89M176.61 213.89L176.49 215.5M176.61 213.89L177.8 214.98M217.39 217.4L220.51 214.8M220.51 214.8L219.17 215.13M220.51 214.8L219.94 216.06M251.91 214.27L250.49 217.93M250.49 217.93L251.47 217.02M250.49 217.93L250.39 216.6M302.12 218.08L301.63 214.12M301.63 214.12L301.2 215.41M301.63 214.12L302.37 215.26M319.74 214.13L320.87 218.07M320.87 218.07L321.11 216.7M320.87 218.07L319.94 217.03M103.12 222.49L104.42 218.71M104.42 218.71L103.46 219.67M104.42 218.71L104.58 220.06M108.62 222.8L108.14 218.4M108.14 218.4L107.63 219.82M108.14 218.4L108.94 219.68M114.18 222.31L111.79 218.89M111.79 218.89L112.02 220.29M111.79 218.89L113.03 219.58M124.04 219.41L120.36 221.79M120.36 221.79L121.84 221.61M120.36 221.79L121.13 220.52M248.76 220.36L244.42 220.84M244.42 220.84L245.82 221.34M244.42 220.84L245.68 220.05M303.1 222.72L300.66 218.48M300.66 218.48L300.78 220.14M300.66 218.48L302.03 219.42M316.35 218.69L315.05 222.51M315.05 222.51L316.01 221.53M315.05 222.51L314.89 221.15M320.11 218.41L320.51 222.79M320.51 222.79L321.03 221.39M320.51 222.79L319.74 221.51M324.01 218.72L325.82 222.48M325.82 222.48L325.82 221.06M325.82 222.48L324.71 221.6M83.39 224.98L87.3 225.02M87.3 225.02L86.11 224.43M87.3 225.02L86.09 225.59M87.68 225.15L92.22 224.85M92.22 224.85L90.79 224.27M92.22 224.85L90.88 225.61M92.29 225.43L96.83 224.57M96.83 224.57L95.31 224.16M96.83 224.57L95.56 225.5M97.35 225.94L100.98 224.06M100.98 224.06L99.59 224.1M100.98 224.06L100.15 225.17M109.41 226.85L107.35 223.15M107.35 223.15L107.43 224.59M107.35 223.15L108.53 223.98M317.34 223.47L314.06 226.53M314.06 226.53L315.52 226.08M314.06 226.53L314.61 225.11M323.61 223.43L326.22 226.57M326.22 226.57L325.88 225.22M326.22 226.57L324.96 225.99M327.47 224.02L331.57 225.98M331.57 225.98L330.61 224.78M331.57 225.98L330.02 225.99M331.89 224.52L336.37 225.48M336.37 225.48L335.14 224.52M336.37 225.48L334.85 225.85M336.65 224.86L340.82 225.14M340.82 225.14L339.59 224.44M340.82 225.14L339.5 225.67M83.39 228.38L87.3 228.42M87.3 228.42L86.11 227.83M87.3 228.42L86.1 228.98M87.68 228.52L92.22 228.28M92.22 228.28L90.8 227.68M92.22 228.28L90.87 229.03M92.29 228.74L96.83 228.06M96.83 228.06L95.34 227.6M96.83 228.06L95.54 228.94M97.34 229.16L100.99 227.64M100.99 227.64L99.65 227.57M100.99 227.64L100.1 228.65M317.37 227.15L314.03 229.65M314.03 229.65L315.42 229.38M314.03 229.65L314.68 228.39M327.46 227.61L331.59 229.19M331.59 229.19L330.56 228.1M331.59 229.19L330.09 229.32M331.88 228.01L336.37 228.79M336.37 228.79L335.11 227.89M336.37 228.79L334.89 229.21M336.65 228.29L340.82 228.51M340.82 228.51L339.58 227.83M340.82 228.51L339.51 229.06" stroke="#00ffc8" stroke-width="1.05" stroke-opacity="0.95"/>
<path d="M115.45 166.15L110.53 168.25M110.53 168.25L112.34 168.33M110.53 168.25L111.72 166.88M132.78 169.44L130.05 164.96M130.05 164.96L130.22 166.74M130.05 164.96L131.55 165.93M135.83 169.66L136.22 164.74M136.22 164.74L135.37 166.19M136.22 164.74L136.82 166.3M138.85 169.29L142.41 165.11M142.41 165.11L140.7 165.86M142.41 165.11L141.94 166.92M162.39 164.76L164.94 169.64M164.94 169.64L164.88 167.77M164.94 169.64L163.44 168.53M168.76 164.53L167.78 169.87M167.78 169.87L168.87 168.38M167.78 169.87L167.29 168.09M227.09 164.8L229.24 169.6M229.24 169.6L229.29 167.81M229.24 169.6L227.87 168.45M233.47 164.75L232.08 169.65M232.08 169.65L233.23 168.35M232.08 169.65L231.78 167.94M239.61 165.33L235.15 169.07M235.15 169.07L237.07 168.58M235.15 169.07L235.96 167.26M257.68 169.24L253.94 165.16M253.94 165.16L254.48 166.96M253.94 165.16L255.69 165.85M260.64 169.66L260.19 164.74M260.19 164.74L259.6 166.31M260.19 164.74L261.05 166.18M263.57 169.42L266.47 164.98M266.47 164.98L264.93 165.91M266.47 164.98L266.24 166.77M286.64 164.98L289.48 169.42M289.48 169.42L289.26 167.64M289.48 169.42L287.95 168.48M292.89 164.76L292.44 169.64M292.44 169.64L293.3 168.21M292.44 169.64L291.86 168.08M298.96 165.13L295.58 169.27M295.58 169.27L297.23 168.5M295.58 169.27L296 167.5M313.78 167.7L308.41 166.7M308.41 166.7L309.9 167.8M308.41 166.7L310.2 166.21M115.42 169.2L110.55 171.8M110.55 171.8L112.43 171.72M110.55 171.8L111.66 170.28M292.88 167.6L292.45 173.4M292.45 173.4L293.44 171.69M292.45 173.4L291.72 171.56M313.77 171.13L308.41 169.87M308.41 169.87L309.87 171.05M308.41 169.87L310.24 169.46M128.24 176.94L125.37 172.06M125.37 172.06L125.53 173.98M125.37 172.06L126.97 173.13M147.02 175.01L152.66 173.99M152.66 173.99L150.79 173.47M152.66 173.99L151.09 175.14M244.06 172.98L239.92 176.02M239.92 176.02L241.63 175.7M239.92 176.02L240.74 174.48M253.08 176.39L249.32 172.61M249.32 172.61L249.91 174.32M249.32 172.61L251.03 173.21M271.45 175.31L277.03 173.69M277.03 173.69L275.08 173.36M277.03 173.69L275.56 175.01M303.25 172.4L300.51 176.6M300.51 176.6L301.97 175.72M300.51 176.6L300.73 174.91M157.9 176.82L160.21 181.78M160.21 181.78L160.24 179.92M160.21 181.78L158.77 180.6M178.4 177L176.58 181.6M176.58 181.6L177.81 180.46M176.58 181.6L176.45 179.92M208.29 181.53L211.18 177.07M211.18 177.07L209.64 178.01M211.18 177.07L210.95 178.86M222.44 176.72L224.68 181.88M224.68 181.88L224.75 179.97M224.68 181.88L223.23 180.63M237.8 176.62L236.96 181.98M236.96 181.98L238.01 180.46M236.96 181.98L236.43 180.21M256.08 182.15L255.53 176.45M255.53 176.45L254.86 178.28M255.53 176.45L256.54 178.11M268.38 181.51L270.88 177.09M270.88 177.09L269.46 178.08M270.88 177.09L270.76 178.81M282.14 177.09L284.76 181.51M284.76 181.51L284.61 179.77M284.76 181.51L283.31 180.55M297.24 176.45L297.3 182.15M297.3 182.15L298.13 180.4M297.3 182.15L296.44 180.42M131.48 213.19L131.35 219.01M131.35 219.01L132.25 217.25M131.35 219.01L130.53 217.21M139.78 213.34L141.47 218.86M141.47 218.86L141.77 216.92M141.47 218.86L140.14 217.42M157.92 218.48L160.19 213.72M160.19 213.72L158.79 214.84M160.19 213.72L160.2 215.51M208.31 213.96L211.16 218.24M211.16 218.24L210.92 216.51M211.16 218.24L209.65 217.35M222.45 218.58L224.66 213.62M224.66 213.62L223.25 214.81M224.66 213.62L224.72 215.47M237.78 218.67L236.98 213.53M236.98 213.53L236.46 215.22M236.98 213.53L237.99 214.98M256.07 213.36L255.55 218.84M255.55 218.84L256.52 217.24M255.55 218.84L254.9 217.08M268.4 213.98L270.86 218.22M270.86 218.22L270.73 216.56M270.86 218.22L269.48 217.29M282.15 218.22L284.75 213.98M284.75 213.98L283.32 214.89M284.75 213.98L284.58 215.66M297.22 218.84L297.32 213.36M297.32 213.36L296.48 215.02M297.32 213.36L298.1 215.05M128.11 218.15L125.51 223.05M125.51 223.05L127.03 221.93M125.51 223.05L125.58 221.17M147.18 220.08L152.5 221.12M152.5 221.12L151.03 220.01M152.5 221.12L150.72 221.59M151.88 221.76L157.02 219.44M157.02 219.44L155.1 219.39M157.02 219.44L155.79 220.91M184.76 221.22L179.43 219.98M179.43 219.98L180.88 221.15M179.43 219.98L181.24 219.57M243.89 222.14L240.08 219.06M240.08 219.06L240.79 220.57M240.08 219.06L241.7 219.44M252.93 218.69L249.47 222.51M249.47 222.51L251.1 221.85M249.47 222.51L249.96 220.83M271.6 219.78L276.87 221.42M276.87 221.42L275.5 220.14M276.87 221.42L275.01 221.7M276.19 221.45L281.49 219.75M281.49 219.75L279.62 219.49M281.49 219.75L280.12 221.05M115.42 226.31L110.55 223.69M110.55 223.69L111.65 225.21M110.55 223.69L112.43 223.77M313.77 224.37L308.41 225.63M308.41 225.63L310.24 226.04M308.41 225.63L309.87 224.45M115.45 229.45L110.53 227.35M110.53 227.35L111.72 228.72M110.53 227.35L112.34 227.27M132.78 226.16L130.05 230.64M130.05 230.64L131.55 229.67M130.05 230.64L130.22 228.86M135.83 225.94L136.22 230.86M136.22 230.86L136.82 229.3M136.22 230.86L135.37 229.41M138.85 226.31L142.41 230.49M142.41 230.49L141.94 228.68M142.41 230.49L140.7 229.74M162.39 230.84L164.94 225.96M164.94 225.96L163.44 227.07M164.94 225.96L164.88 227.83M168.76 231.07L167.78 225.73M167.78 225.73L167.29 227.51M167.78 225.73L168.87 227.22M227.09 230.8L229.24 226M229.24 226L227.87 227.15M229.24 226L229.29 227.79M233.47 230.85L232.08 225.95M232.08 225.95L231.78 227.66M232.08 225.95L233.23 227.25M239.61 230.27L235.15 226.53M235.15 226.53L235.96 228.34M235.15 226.53L237.07 227.02M257.68 226.36L253.94 230.44M253.94 230.44L255.69 229.75M253.94 230.44L254.48 228.64M260.64 225.94L260.19 230.86M260.19 230.86L261.05 229.42M260.19 230.86L259.6 229.29M263.57 226.18L266.47 230.62M266.47 230.62L266.24 228.83M266.47 230.62L264.93 229.69M286.64 230.62L289.48 226.18M289.48 226.18L287.95 227.12M289.48 226.18L289.26 227.96M292.89 230.84L292.44 225.96M292.44 225.96L291.86 227.52M292.44 225.96L293.3 227.39M298.96 230.47L295.58 226.33M295.58 226.33L296 228.1M295.58 226.33L297.23 227.1M313.78 227.9L308.41 228.9M308.41 228.9L310.2 229.39M308.41 228.9L309.9 227.8" stroke="#14ff58" stroke-width="1.05" stroke-opacity="0.95"/>
<path d="M120.76 166.97L114.43 167.43M114.43 167.43L116.43 168.23M114.43 167.43L116.3 166.35M125.37 167.91L119.03 166.49M119.03 166.49L120.76 167.86M119.03 166.49L121.18 165.99M129.35 168.78L124.26 165.62M124.26 165.62L125.35 167.34M124.26 165.62L126.29 165.83M142.34 168.51L148.13 165.89M148.13 165.89L145.97 165.84M148.13 165.89L146.74 167.55M156.44 165.5L161.67 168.9M161.67 168.9L160.57 167.09M161.67 168.9L159.57 168.63M175.05 164.91L170.71 169.49M170.71 169.49L172.71 168.73M170.71 169.49L171.36 167.44M197.64 169.98L194.19 164.42M194.19 164.42L194.42 166.63M194.19 164.42L196.07 165.61M200.28 170.2L200.76 164.2M200.76 164.2L199.73 165.97M200.76 164.2L201.5 166.11M203 169.66L207.26 164.74M207.26 164.74L205.23 165.62M207.26 164.74L206.68 166.88M221.02 165.42L226.1 168.98M226.1 168.98L225.07 167.14M226.1 168.98L224.01 168.64M245.14 166.27L238.83 168.13M238.83 168.13L241.04 168.5M238.83 168.13L240.49 166.63M254.17 168.39L248.23 166.01M248.23 166.01L249.7 167.62M248.23 166.01L250.4 165.86M266.94 168.69L272.32 165.71M272.32 165.71L270.23 165.83M272.32 165.71L271.11 167.42M280.78 165.7L286.12 168.7M286.12 168.7L284.93 166.99M286.12 168.7L284.04 168.57M304.55 165.88L299.21 168.52M299.21 168.52L301.23 168.5M299.21 168.52L300.45 166.92M309.5 166.79L303.47 167.61M303.47 167.61L305.44 168.25M303.47 167.61L305.19 166.47M120.76 170.21L114.43 170.79M114.43 170.79L116.45 171.55M114.43 170.79L116.28 169.68M125.36 171.38L119.04 169.62M119.04 169.62L120.71 171.09M119.04 169.62L121.23 169.22M129.31 172.45L124.3 168.55M124.3 168.55L125.26 170.49M124.3 168.55L126.41 169M132.73 173.2L130.1 167.8M130.1 167.8L130.11 169.84M130.1 167.8L131.7 169.07M135.84 173.43L136.21 167.57M136.21 167.57L135.23 169.31M136.21 167.57L136.96 169.42M138.9 173.04L142.35 167.96M142.35 167.96L140.55 169.01M142.35 167.96L142.05 170.03M142.37 172.12L148.1 168.88M148.1 168.88L145.87 169.03M148.1 168.88L146.82 170.72M156.49 168.41L161.63 172.59M161.63 172.59L160.67 170.55M161.63 172.59L159.43 172.07M162.44 167.57L164.89 173.43M164.89 173.43L165.01 171.27M164.89 173.43L163.27 172M168.74 167.31L167.8 173.69M167.8 173.69L169.03 171.87M167.8 173.69L167.15 171.6M221.07 168.31L226.05 172.69M226.05 172.69L225.17 170.61M226.05 172.69L223.88 172.08M227.13 167.62L229.2 173.38M229.2 173.38L229.42 171.31M229.2 173.38L227.71 171.92M233.44 167.58L232.11 173.42M232.11 173.42L233.38 171.83M232.11 173.42L231.65 171.44M239.56 168.22L235.2 172.78M235.2 172.78L237.21 172.03M235.2 172.78L235.86 170.74M245.13 169.34L238.84 171.66M238.84 171.66L241.11 171.88M238.84 171.66L240.42 170.02M254.15 171.97L248.25 169.03M248.25 169.03L249.62 170.8M248.25 169.03L250.49 169.06M257.63 172.98L253.99 168.02M253.99 168.02L254.37 170.08M253.99 168.02L255.84 169M260.63 173.43L260.2 167.57M260.2 167.57L259.46 169.43M260.2 167.57L261.2 169.3M263.62 173.17L266.42 167.83M266.42 167.83L264.77 169.05M266.42 167.83L266.35 169.88M266.97 172.33L272.29 168.67M272.29 168.67L270.12 169M272.29 168.67L271.2 170.58M280.81 168.65L286.09 172.35M286.09 172.35L285.02 170.44M286.09 172.35L283.93 172M286.69 167.83L289.43 173.17M289.43 173.17L289.38 171.13M289.43 173.17L287.8 171.94M298.91 168L295.63 173M295.63 173L297.38 171.95M295.63 173L295.9 170.99M304.52 168.87L299.24 172.13M299.24 172.13L301.34 171.91M299.24 172.13L300.37 170.35M309.5 169.99L303.47 171.01M303.47 171.01L305.47 171.59M303.47 171.01L305.17 169.81M131.99 177.7L130.84 171.3M130.84 171.3L130.25 173.43M130.84 171.3L132.14 173.09M139.15 177.5L142.11 171.5M142.11 171.5L140.31 172.9M142.11 171.5L142.09 173.77M142.89 176.5L147.58 172.5M147.58 172.5L145.55 173.03M147.58 172.5L146.73 174.42M151.73 173.35L157.17 175.65M157.17 175.65L155.85 174.14M157.17 175.65L155.17 175.75M156.97 171.96L161.15 177.04M161.15 177.04L160.62 174.87M161.15 177.04L159.12 176.1M179.71 172.19L175.26 176.81M175.26 176.81L177.31 176.05M175.26 176.81L175.94 174.74M184.96 173.89L179.23 175.11M179.23 175.11L181.16 175.58M179.23 175.11L180.8 173.89M189.49 175.88L183.91 173.12M183.91 173.12L185.21 174.79M183.91 173.12L186.03 173.14M211.28 174.97L217.41 174.03M217.41 174.03L215.39 173.41M217.41 174.03L215.67 175.23M216.14 173.19L221.76 175.81M221.76 175.81L220.43 174.18M221.76 175.81L219.65 175.84M221.53 171.85L225.58 177.15M225.58 177.15L225.13 174.93M225.58 177.15L223.56 176.13M238.63 171.71L236.13 177.29M236.13 177.29L237.72 175.95M236.13 177.29L236.07 175.21M256.77 177.49L254.84 171.51M254.84 171.51L254.55 173.63M254.84 171.51L256.32 173.06M267.42 176.74L271.83 172.26M271.83 172.26L269.82 172.98M271.83 172.26L271.15 174.28M276.04 173.66L281.65 175.34M281.65 175.34L280.18 173.99M281.65 175.34L279.68 175.65M281.19 172.25L285.71 176.75M285.71 176.75L284.99 174.7M285.71 176.75L283.66 176.04M297.88 171.49L296.67 177.51M296.67 177.51L297.93 175.85M296.67 177.51L296.15 175.49M131.49 182.32L131.34 176.28M131.34 176.28L130.49 178.15M131.34 176.28L132.28 178.1M135.65 182.51L136.39 176.09M136.39 176.09L135.22 177.95M136.39 176.09L137.11 178.17M139.78 182.17L141.48 176.43M141.48 176.43L140.11 177.93M141.48 176.43L141.81 178.44M163 176.04L164.33 182.56M164.33 182.56L164.89 180.37M164.33 182.56L162.96 180.76M173.28 176.1L172.48 182.5M172.48 182.5L173.67 180.66M172.48 182.5L171.78 180.42M192.11 182.23L190.51 176.37M190.51 176.37L190.13 178.4M190.51 176.37L191.87 177.93M227.56 176.12L228.77 182.48M228.77 182.48L229.34 180.36M228.77 182.48L227.46 180.71M232.69 176.08L232.85 182.52M232.85 182.52L233.75 180.52M232.85 182.52L231.85 180.57M260.18 182.51L260.65 176.09M260.65 176.09L259.56 177.99M260.65 176.09L261.46 178.13M264.26 182.29L265.78 176.31M265.78 176.31L264.43 177.92M265.78 176.31L266.2 178.37M287.18 176.32L288.93 182.28M288.93 182.28L289.28 180.19M288.93 182.28L287.52 180.71M292.24 176.12L293.09 182.48M293.09 182.48L293.77 180.41M293.09 182.48L291.89 180.66M135.65 213.02L136.39 219.18M136.39 219.18L137.08 217.19M136.39 219.18L135.25 217.41M163.01 219.23L164.32 212.97M164.32 212.97L162.99 214.69M164.32 212.97L164.85 215.08M173.26 219.17L172.5 213.03M172.5 213.03L171.82 215.02M172.5 213.03L173.64 214.8M192.08 213.28L190.54 218.92M190.54 218.92L191.84 217.42M190.54 218.92L190.17 216.97M227.56 219.16L228.76 213.04M228.76 213.04L227.49 214.74M228.76 213.04L229.3 215.09M232.68 219.2L232.86 213M232.86 213L231.89 214.87M232.86 213L233.72 214.93M260.17 213.01L260.66 219.19M260.66 219.19L261.42 217.23M260.66 219.19L259.59 217.37M264.27 213.23L265.77 218.97M265.77 218.97L266.16 216.99M265.77 218.97L264.46 217.44M287.19 218.96L288.93 213.24M288.93 213.24L287.55 214.73M288.93 213.24L289.24 215.25M292.23 219.15L293.1 213.05M293.1 213.05L291.93 214.79M293.1 213.05L293.73 215.04M131.92 217.4L130.91 223.8M130.91 223.8L132.17 221.99M130.91 223.8L130.27 221.69M139.24 217.59L142.01 223.61M142.01 223.61L142.06 221.36M142.01 223.61L140.28 222.18M143.04 218.59L147.43 222.61M147.43 222.61L146.68 220.73M147.43 222.61L145.49 222.03M157.1 223.16L161.01 218.04M161.01 218.04L159.06 219.03M161.01 218.04L160.57 220.19M179.53 222.93L175.44 218.27M175.44 218.27L176 220.3M175.44 218.27L177.38 219.09M189.28 219.2L184.12 222M184.12 222L186.11 221.91M184.12 222L185.29 220.38M207.26 218.35L212.21 222.85M212.21 222.85L211.36 220.74M212.21 222.85L210.03 222.2M211.46 220.13L217.23 221.07M217.23 221.07L215.6 219.93M217.23 221.07L215.32 221.64M216.31 221.93L221.59 219.27M221.59 219.27L219.58 219.3M221.59 219.27L220.37 220.87M221.66 223.26L225.45 217.94M225.45 217.94L223.51 219.01M225.45 217.94L225.08 220.13M238.51 223.4L236.25 217.8M236.25 217.8L236.11 219.85M236.25 217.8L237.77 219.18M256.68 217.61L254.94 223.59M254.94 223.59L256.36 222.02M254.94 223.59L254.58 221.5M267.56 218.35L271.7 222.85M271.7 222.85L271.1 220.86M271.7 222.85L269.76 222.09M281.33 222.86L285.57 218.34M285.57 218.34L283.6 219.1M285.57 218.34L284.94 220.35M297.78 223.61L296.76 217.59M296.76 217.59L296.18 219.58M296.76 217.59L297.96 219.28M120.76 225.29L114.43 224.71M114.43 224.71L116.28 225.82M114.43 224.71L116.45 223.95M125.36 224.12L119.04 225.88M119.04 225.88L121.24 226.28M119.04 225.88L120.71 224.41M129.31 223.04L124.31 226.96M124.31 226.96L126.42 226.5M124.31 226.96L125.26 225.02M132.73 222.29L130.1 227.71M130.1 227.71L131.71 226.44M130.1 227.71L130.1 225.66M135.84 222.06L136.21 227.94M136.21 227.94L136.96 226.09M136.21 227.94L135.22 226.2M138.9 222.45L142.35 227.55M142.35 227.55L142.05 225.48M142.35 227.55L140.54 226.5M142.37 223.37L148.1 226.63M148.1 226.63L146.83 224.78M148.1 226.63L145.87 226.48M156.49 227.1L161.63 222.9M161.63 222.9L159.43 223.42M161.63 222.9L160.68 224.94M162.44 227.95L164.89 222.05M164.89 222.05L163.27 223.49M164.89 222.05L165.01 224.22M168.74 228.2L167.8 221.8M167.8 221.8L167.14 223.9M167.8 221.8L169.04 223.62M221.07 227.2L226.05 222.8M226.05 222.8L223.87 223.41M226.05 222.8L225.17 224.88M227.13 227.89L229.19 222.11M229.19 222.11L227.71 223.57M229.19 222.11L229.42 224.18M233.44 227.94L232.11 222.06M232.11 222.06L231.65 224.06M232.11 222.06L233.38 223.67M239.56 227.29L235.2 222.71M235.2 222.71L235.86 224.76M235.2 222.71L237.21 223.47M245.13 226.17L238.84 223.83M238.84 223.83L240.42 225.48M238.84 223.83L241.11 223.62M254.15 223.52L248.25 226.48M248.25 226.48L250.5 226.45M248.25 226.48L249.62 224.7M257.62 222.51L253.99 227.49M253.99 227.49L255.84 226.5M253.99 227.49L254.37 225.43M260.63 222.06L260.2 227.94M260.2 227.94L261.2 226.21M260.2 227.94L259.46 226.08M263.62 222.31L266.42 227.69M266.42 227.69L266.36 225.63M266.42 227.69L264.77 226.46M266.97 223.16L272.28 226.84M272.28 226.84L271.2 224.93M272.28 226.84L270.11 226.5M280.82 226.86L286.08 223.14M286.08 223.14L283.92 223.5M286.08 223.14L285.02 225.06M286.69 227.68L289.43 222.32M289.43 222.32L287.79 223.55M289.43 222.32L289.38 224.36M292.88 227.92L292.45 222.08M292.45 222.08L291.72 223.93M292.45 222.08L293.44 223.81M298.91 227.52L295.64 222.48M295.64 222.48L295.89 224.51M295.64 222.48L297.38 223.54M304.52 226.64L299.24 223.36M299.24 223.36L300.37 225.14M299.24 223.36L301.34 223.58M309.5 225.51L303.47 224.49M303.47 224.49L305.16 225.69M303.47 224.49L305.47 223.91M120.76 228.63L114.43 228.17M114.43 228.17L116.3 229.25M114.43 228.17L116.43 227.37M125.37 227.69L119.03 229.11M119.03 229.11L121.18 229.61M119.03 229.11L120.76 227.74M129.35 226.82L124.26 229.98M124.26 229.98L126.29 229.77M124.26 229.98L125.35 228.26M142.34 227.09L148.13 229.71M148.13 229.71L146.74 228.05M148.13 229.71L145.97 229.76M156.44 230.1L161.67 226.7M161.67 226.7L159.57 226.97M161.67 226.7L160.57 228.51M175.05 230.69L170.71 226.11M170.71 226.11L171.36 228.16M170.71 226.11L172.71 226.87M197.64 225.62L194.19 231.18M194.19 231.18L196.07 229.99M194.19 231.18L194.42 228.97M200.28 225.4L200.76 231.4M200.76 231.4L201.5 229.49M200.76 231.4L199.73 229.63M203 225.94L207.26 230.86M207.26 230.86L206.68 228.72M207.26 230.86L205.23 229.98M221.02 230.18L226.1 226.62M226.1 226.62L224.01 226.96M226.1 226.62L225.07 228.46M245.14 229.33L238.83 227.47M238.83 227.47L240.49 228.97M238.83 227.47L241.04 227.1M254.17 227.21L248.23 229.59M248.23 229.59L250.4 229.74M248.23 229.59L249.7 227.98M266.94 226.91L272.32 229.89M272.32 229.89L271.11 228.18M272.32 229.89L270.23 229.77M280.78 229.9L286.12 226.9M286.12 226.9L284.04 227.03M286.12 226.9L284.93 228.61M304.55 229.72L299.21 227.08M299.21 227.08L300.45 228.68M299.21 227.08L301.23 227.1M309.5 228.81L303.47 227.99M303.47 227.99L305.19 229.13M303.47 227.99L305.44 227.35" stroke="#00ff00" stroke-width="1.05" stroke-opacity="0.95"/>
<path d="M146.42 167.52L153.26 166.88M153.26 166.88L151.07 166.06M153.26 166.88L151.26 168.09M151.12 166.47L157.78 167.93M157.78 167.93L155.96 166.5M157.78 167.93L155.53 168.47M180.92 165.74L174.06 168.66M174.06 168.66L176.59 168.78M174.06 168.66L175.72 166.75M194.54 169.16L188.07 165.24M188.07 165.24L189.47 167.4M188.07 165.24L190.63 165.48M206.41 168.65L213.06 165.75M213.06 165.75L210.6 165.65M213.06 165.75L211.45 167.62M210.59 167.49L218.09 166.91M218.09 166.91L215.71 165.98M218.09 166.91L215.88 168.2M215.49 166.37L222.41 168.03M222.41 168.03L220.54 166.5M222.41 168.03L220.05 168.55M250 167.34L243.18 167.06M243.18 167.06L245.23 168.15M243.18 167.06L245.31 166.14M270.91 167.71L277.57 166.69M277.57 166.69L275.38 166.02M277.57 166.69L275.68 167.99M275.52 166.67L282.17 167.73M282.17 167.73L280.29 166.42M282.17 167.73L279.97 168.39M146.42 170.9L153.26 170.1M153.26 170.1L151.05 169.33M153.26 170.1L151.29 171.36M151.13 169.59L157.77 171.41M157.77 171.41L156.01 169.87M157.77 171.41L155.47 171.83M174.99 167.72L170.77 173.28M170.77 173.28L172.88 172.2M170.77 173.28L171.24 170.95M197.58 173.85L194.25 167.15M194.25 167.15L194.28 169.69M194.25 167.15L196.26 168.71M200.29 174.07L200.75 166.93M200.75 166.93L199.55 169.05M200.75 166.93L201.67 169.18M203.06 173.48L207.2 167.52M207.2 167.52L205.05 168.73M207.2 167.52L206.81 169.96M206.44 172.3L213.03 168.7M213.03 168.7L210.48 168.83M213.03 168.7L211.54 170.78M210.6 170.86L218.09 170.14M218.09 170.14L215.69 169.25M218.09 170.14L215.9 171.47M215.5 169.46L222.4 171.54M222.4 171.54L220.59 169.88M222.4 171.54L219.98 171.92M250 170.67L243.18 170.33M243.18 170.33L245.22 171.44M243.18 170.33L245.32 169.42M270.91 171.14L277.56 169.86M277.56 169.86L275.34 169.27M277.56 169.86L275.71 171.24M275.52 169.84L282.16 171.16M282.16 171.16L280.33 169.78M282.16 171.16L279.93 171.74M135.59 177.9L136.45 171.1M136.45 171.1L135.18 173.05M136.45 171.1L137.19 173.31M162.56 171.07L164.77 177.93M164.77 177.93L165.11 175.5M164.77 177.93L163.08 176.16M168.32 170.79L168.23 178.21M168.23 178.21L169.35 175.95M168.23 178.21L167.16 175.93M174.08 171.15L171.68 177.85M171.68 177.85L173.41 176.15M171.68 177.85L171.42 175.45M193.33 177.51L189.28 171.49M189.28 171.49L189.63 173.93M189.28 171.49L191.41 172.74M207.09 176.73L212.38 172.27M212.38 172.27L210.1 172.85M212.38 172.27L211.42 174.42M227.19 171.14L229.14 177.86M229.14 177.86L229.54 175.51M229.14 177.86L227.55 176.09M232.94 171.09L232.6 177.91M232.6 177.91L233.72 175.87M232.6 177.91L231.7 175.77M260.26 177.91L260.57 171.09M260.57 171.09L259.47 173.13M260.57 171.09L261.48 173.22M263.76 177.64L266.28 171.36M266.28 171.36L264.58 172.91M266.28 171.36L266.44 173.66M286.7 171.38L289.42 177.62M289.42 177.62L289.51 175.31M289.42 177.62L287.66 176.11M292.33 171.13L293 177.87M293 177.87L293.79 175.71M293 177.87L291.8 175.91M168.14 175.8L168.4 182.8M168.4 182.8L169.36 180.62M168.4 182.8L167.29 180.7M196.17 183.05L195.66 175.55M195.66 175.55L194.71 177.92M195.66 175.55L196.93 177.77M204.19 182.68L206.06 175.92M206.06 175.92L204.49 177.71M206.06 175.92L206.49 178.26M168.13 219.47L168.41 212.73M168.41 212.73L167.33 214.75M168.41 212.73L169.32 214.84M196.15 212.49L195.68 219.71M195.68 219.71L196.89 217.57M195.68 219.71L194.75 217.43M200.18 212.34L200.86 219.86M200.86 219.86L201.77 217.46M200.86 219.86L199.54 217.66M204.21 212.85L206.05 219.35M206.05 219.35L206.45 217.09M206.05 219.35L204.52 217.63M135.6 217.2L136.44 224M136.44 224L137.19 221.79M136.44 224L135.18 222.04M162.62 224.04L164.71 217.16M164.71 217.16L163.05 218.96M164.71 217.16L165.08 219.58M168.29 224.31L168.25 216.89M168.25 216.89L167.17 219.17M168.25 216.89L169.36 219.16M173.96 223.96L171.8 217.24M171.8 217.24L171.47 219.62M171.8 217.24L173.45 218.98M193.16 217.57L189.46 223.63M189.46 223.63L191.49 222.32M189.46 223.63L189.69 221.23M227.25 223.96L229.08 217.24M229.08 217.24L227.53 219.02M229.08 217.24L229.51 219.57M232.9 224.01L232.64 217.19M232.64 217.19L231.71 219.32M232.64 217.19L233.73 219.24M260.25 217.19L260.58 224.01M260.58 224.01L261.49 221.87M260.58 224.01L259.47 221.97M263.84 217.46L266.21 223.74M266.21 223.74L266.41 221.47M266.21 223.74L264.55 222.17M286.77 223.73L289.35 217.47M289.35 217.47L287.63 219.01M289.35 217.47L289.48 219.77M292.32 223.97L293.01 217.23M293.01 217.23L291.8 219.19M293.01 217.23L293.8 219.4M146.42 224.6L153.26 225.4M153.26 225.4L151.29 224.14M153.26 225.4L151.05 226.17M151.13 225.91L157.77 224.09M157.77 224.09L155.47 223.66M157.77 224.09L156.01 225.63M174.99 227.79L170.77 222.21M170.77 222.21L171.23 224.54M170.77 222.21L172.89 223.29M197.57 221.64L194.25 228.36M194.25 228.36L196.26 226.79M194.25 228.36L194.28 225.81M200.29 221.41L200.75 228.59M200.75 228.59L201.67 226.32M200.75 228.59L199.55 226.46M203.06 222L207.2 228M207.2 228L206.82 225.55M207.2 228L205.04 226.77M206.44 223.19L213.03 226.81M213.03 226.81L211.55 224.73M213.03 226.81L210.48 226.67M210.6 224.63L218.09 225.37M218.09 225.37L215.9 224.03M218.09 225.37L215.69 226.25M215.5 226.04L222.4 223.96M222.4 223.96L219.98 223.58M222.4 223.96L220.6 225.62M250 224.82L243.18 225.18M243.18 225.18L245.32 226.08M243.18 225.18L245.22 224.06M270.91 224.36L277.56 225.64M277.56 225.64L275.72 224.27M277.56 225.64L275.33 226.23M275.52 225.67L282.16 224.33M282.16 224.33L279.93 223.76M282.16 224.33L280.33 225.72M146.42 228.08L153.26 228.72M153.26 228.72L151.26 227.51M153.26 228.72L151.07 229.54M151.12 229.13L157.78 227.67M157.78 227.67L155.53 227.13M157.78 227.67L155.96 229.1M180.92 229.86L174.06 226.94M174.06 226.94L175.72 228.85M174.06 226.94L176.59 226.82M194.54 226.44L188.07 230.36M188.07 230.36L190.63 230.12M188.07 230.36L189.47 228.2M206.41 226.95L213.06 229.85M213.06 229.85L211.45 227.98M213.06 229.85L210.6 229.95M210.59 228.11L218.09 228.69M218.09 228.69L215.88 227.4M218.09 228.69L215.71 229.62M215.49 229.23L222.41 227.57M222.41 227.57L220.05 227.05M222.41 227.57L220.54 229.1M250 228.26L243.18 228.54M243.18 228.54L245.31 229.46M243.18 228.54L245.23 227.45M270.91 227.89L277.57 228.91M277.57 228.91L275.68 227.61M277.57 228.91L275.38 229.58M275.52 228.93L282.17 227.87M282.17 227.87L279.97 227.21M282.17 227.87L280.29 229.18" stroke="#60ff00" stroke-width="1.05" stroke-opacity="0.95"/>
<path d="M186.18 166.84L178 167.56M178 167.56L180.61 168.55M178 167.56L180.4 166.13M190.74 168.04L182.66 166.36M182.66 166.36L184.88 168.07M182.66 166.36L185.38 165.68M180.88 168.69L174.09 172.31M174.09 172.31L176.7 172.21M174.09 172.31L175.63 170.2M186.18 170.05L178 170.95M178 170.95L180.64 171.89M178 170.95L180.37 169.47M190.73 171.55L182.67 169.45M182.67 169.45L184.83 171.29M182.67 169.45L185.45 168.9M194.49 172.92L188.12 168.08M188.12 168.08L189.36 170.51M188.12 168.08L190.79 168.62M196.79 178.46L195.04 170.54M195.04 170.54L194.4 173.22M195.04 170.54L196.75 172.71M200.1 178.65L200.94 170.35M200.94 170.35L199.46 172.77M200.94 170.35L201.91 173.02M203.44 178.04L206.82 170.96M206.82 170.96L204.74 172.63M206.82 170.96L206.83 173.63M200.18 183.21L200.86 175.39M200.86 175.39L199.5 177.68M200.86 175.39L201.81 177.88M196.7 216.63L195.13 224.57M195.13 224.57L196.78 222.37M195.13 224.57L194.44 221.91M200.12 216.45L200.93 224.75M200.93 224.75L201.9 222.09M200.93 224.75L199.45 222.33M203.55 217.05L206.71 224.15M206.71 224.15L206.79 221.51M206.71 224.15L204.69 222.44M180.88 226.82L174.09 223.18M174.09 223.18L175.63 225.3M174.09 223.18L176.71 223.29M186.18 225.46L178 224.54M178 224.54L180.37 226.03M178 224.54L180.64 223.61M190.73 223.95L182.67 226.05M182.67 226.05L185.45 226.6M182.67 226.05L184.83 224.22M194.49 222.57L188.12 227.43M188.12 227.43L190.79 226.88M188.12 227.43L189.35 225M186.18 228.76L178 228.04M178 228.04L180.4 229.47M178 228.04L180.61 227.05M190.74 227.56L182.66 229.24M182.66 229.24L185.38 229.92M182.66 229.24L184.88 227.53" stroke="#c8ff00" stroke-width="1.05" stroke-opacity="0.95"/>
</g>
<path d="M65.7 167.0L65.7 172.6Q65.7 174.5 67.6 174.5L367.0 174.5Q370.7 174.5 370.7 167.2" stroke="#383838" stroke-width="1.3" stroke-dasharray="2.9 1.7" fill="none"/>
<path d="M65.7 228.4L65.7 222.5Q65.7 220.6 67.6 220.6L367.0 220.6Q370.7 220.6 370.7 227.9" stroke="#383838" stroke-width="1.3" stroke-dasharray="2.9 1.7" fill="none"/>
<path d="M150.5 174.5Q156.4 173.5 156.8 167.3" stroke="#383838" stroke-width="1.3" stroke-dasharray="2.9 1.7" fill="none"/>
<path d="M150.5 220.6Q156.4 221.6 156.8 227.8" stroke="#383838" stroke-width="1.3" stroke-dasharray="2.9 1.7" fill="none"/>
<path d="M280.6 174.5L280.6 167.0" stroke="#383838" stroke-width="1.3" stroke-dasharray="2.9 1.7" fill="none"/>
<path d="M280.6 220.6L280.6 228.1" stroke="#383838" stroke-width="1.3" stroke-dasharray="2.9 1.7" fill="none"/>
<rect x="136" y="236.0" width="8.8" height="7.4" fill="#0000ff"/>
<rect x="144.6" y="236.0" width="16.6" height="7.4" fill="#0060ff"/>
<rect x="161" y="236.0" width="16.4" height="7.4" fill="#00c0ff"/>
<rect x="177.2" y="236.0" width="16.6" height="7.4" fill="#00ffc8"/>
<rect x="193.6" y="236.0" width="16.4" height="7.4" fill="#14ff58"/>
<rect x="209.8" y="236.0" width="16.8" height="7.4" fill="#00ff00"/>
<rect x="226.4" y="236.0" width="16.8" height="7.4" fill="#60ff00"/>
<rect x="243" y="236.0" width="16.5" height="7.4" fill="#c8ff00"/>
<rect x="259.3" y="236.0" width="16.7" height="7.4" fill="#ffc000"/>
<rect x="275.8" y="236.0" width="16.6" height="7.4" fill="#ff6000"/>
<rect x="292.2" y="236.0" width="8.5" height="7.4" fill="#ff0000"/>
<text x="85.9" y="250.3" font-family='"Liberation Sans", sans-serif' font-size="5.3" font-weight="normal" font-style="normal" fill="#222" text-anchor="start" textLength="46.2" lengthAdjust="spacingAndGlyphs">Velocity Magnitude:</text>
<text x="137.9" y="250.3" font-family='"Liberation Sans", sans-serif' font-size="5.3" font-weight="normal" font-style="normal" fill="#222" text-anchor="start" textLength="12.5" lengthAdjust="spacingAndGlyphs">0.004</text>
<text x="154.5" y="250.3" font-family='"Liberation Sans", sans-serif' font-size="5.3" font-weight="normal" font-style="normal" fill="#222" text-anchor="start" textLength="12.5" lengthAdjust="spacingAndGlyphs">0.008</text>
<text x="170.9" y="250.3" font-family='"Liberation Sans", sans-serif' font-size="5.3" font-weight="normal" font-style="normal" fill="#222" text-anchor="start" textLength="12.5" lengthAdjust="spacingAndGlyphs">0.012</text>
<text x="187.4" y="250.3" font-family='"Liberation Sans", sans-serif' font-size="5.3" font-weight="normal" font-style="normal" fill="#222" text-anchor="start" textLength="12.5" lengthAdjust="spacingAndGlyphs">0.016</text>
<text x="205.2" y="250.3" font-family='"Liberation Sans", sans-serif' font-size="5.3" font-weight="normal" font-style="normal" fill="#222" text-anchor="start" textLength="9.8" lengthAdjust="spacingAndGlyphs">0.02</text>
<text x="219.7" y="250.3" font-family='"Liberation Sans", sans-serif' font-size="5.3" font-weight="normal" font-style="normal" fill="#222" text-anchor="start" textLength="12.5" lengthAdjust="spacingAndGlyphs">0.024</text>
<text x="236.8" y="250.3" font-family='"Liberation Sans", sans-serif' font-size="5.3" font-weight="normal" font-style="normal" fill="#222" text-anchor="start" textLength="12.5" lengthAdjust="spacingAndGlyphs">0.028</text>
<text x="253.3" y="250.3" font-family='"Liberation Sans", sans-serif' font-size="5.3" font-weight="normal" font-style="normal" fill="#222" text-anchor="start" textLength="12.5" lengthAdjust="spacingAndGlyphs">0.032</text>
<text x="269.7" y="250.3" font-family='"Liberation Sans", sans-serif' font-size="5.3" font-weight="normal" font-style="normal" fill="#222" text-anchor="start" textLength="12.5" lengthAdjust="spacingAndGlyphs">0.036</text>
<text x="287.5" y="250.3" font-family='"Liberation Sans", sans-serif' font-size="5.3" fill="#222" textLength="22.3" lengthAdjust="spacingAndGlyphs">0.04 <tspan font-size="6.3">m/s</tspan></text>
</svg>
</body>
</html>
